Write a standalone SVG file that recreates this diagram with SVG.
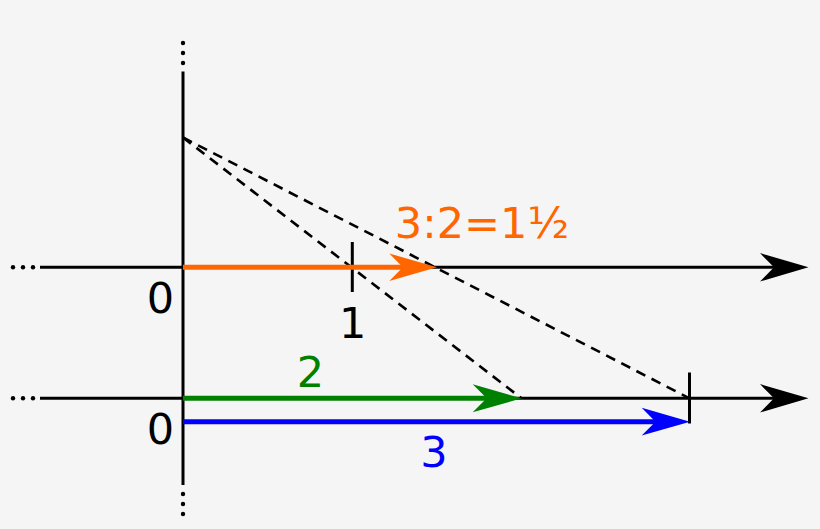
<svg xmlns="http://www.w3.org/2000/svg" width="820" height="529" viewBox="0 0 820 529">
<style>
.ax{stroke:#000;stroke-width:3;fill:none}
.dash{stroke:#000;stroke-width:2.6;fill:none;stroke-dasharray:10,7}
.dot{fill:#000}
.lbl{font-family:"DejaVu Sans","Liberation Sans",sans-serif;font-size:43px;text-anchor:middle}
</style>
<rect width="820" height="529" fill="#f5f5f5"/>
<g id="connectors">
  <line class="ax" x1="183" y1="71.5" x2="183" y2="485"/>
  <line class="ax" x1="40" y1="267.3" x2="775" y2="267.3"/>
  <line class="ax" x1="40" y1="398.3" x2="775" y2="398.3"/>
  <polygon points="808.5,267.3 760,253.1 774,267.3 760,281.5" fill="#000"/>
  <polygon points="808.5,398.3 760,384.1 774,398.3 760,412.5" fill="#000"/>
  <line class="dash" x1="183" y1="137.5" x2="689.5" y2="398.3"/>
  <line class="dash" x1="183" y1="137.5" x2="521.5" y2="398.3"/>
  <line class="ax" x1="352.3" y1="242" x2="352.3" y2="292"/>
  <line class="ax" x1="689.5" y1="372.5" x2="689.5" y2="423.5"/>
</g>
<g id="dots">
  <circle class="dot" cx="13" cy="267.3" r="2.2"/>
  <circle class="dot" cx="23" cy="267.3" r="2.2"/>
  <circle class="dot" cx="33" cy="267.3" r="2.2"/>
  <circle class="dot" cx="13" cy="398.3" r="2.2"/>
  <circle class="dot" cx="23" cy="398.3" r="2.2"/>
  <circle class="dot" cx="33" cy="398.3" r="2.2"/>
  <circle class="dot" cx="183" cy="43" r="2.2"/>
  <circle class="dot" cx="183" cy="53" r="2.2"/>
  <circle class="dot" cx="183" cy="63" r="2.2"/>
  <circle class="dot" cx="183" cy="494" r="2.2"/>
  <circle class="dot" cx="183" cy="504" r="2.2"/>
  <circle class="dot" cx="183" cy="514" r="2.2"/>
</g>
<g id="orange-arrow">
  <line x1="183" y1="267.3" x2="405" y2="267.3" stroke="#ff6600" stroke-width="5"/>
  <polygon points="437,267.3 389.3,253.5 402.8,267.3 389.3,281.1" fill="#ff6600"/>
  <text class="lbl" x="482" y="237.5" fill="#ff6600">3:2=1½</text>
</g>
<g id="green-arrow">
  <line x1="183" y1="398.3" x2="490" y2="398.3" stroke="#008000" stroke-width="5"/>
  <polygon points="521.7,398.3 472.7,384.3 486.7,398.3 472.7,412.3" fill="#008000"/>
  <text class="lbl" x="310.5" y="387" fill="#008000">2</text>
</g>
<g id="blue-arrow">
  <line x1="183" y1="421.7" x2="659" y2="421.7" stroke="#0000ff" stroke-width="5"/>
  <polygon points="690,421.7 641.7,407.8 655.5,421.7 641.7,435.6" fill="#0000ff"/>
  <text class="lbl" x="434" y="466.5" fill="#0000ff">3</text>
</g>
<g id="labels">
  <text class="lbl" x="160.5" y="312.5" fill="#000">0</text>
  <text class="lbl" x="160.5" y="443.5" fill="#000">0</text>
  <text class="lbl" x="352.7" y="337.5" fill="#000">1</text>
</g>
</svg>
